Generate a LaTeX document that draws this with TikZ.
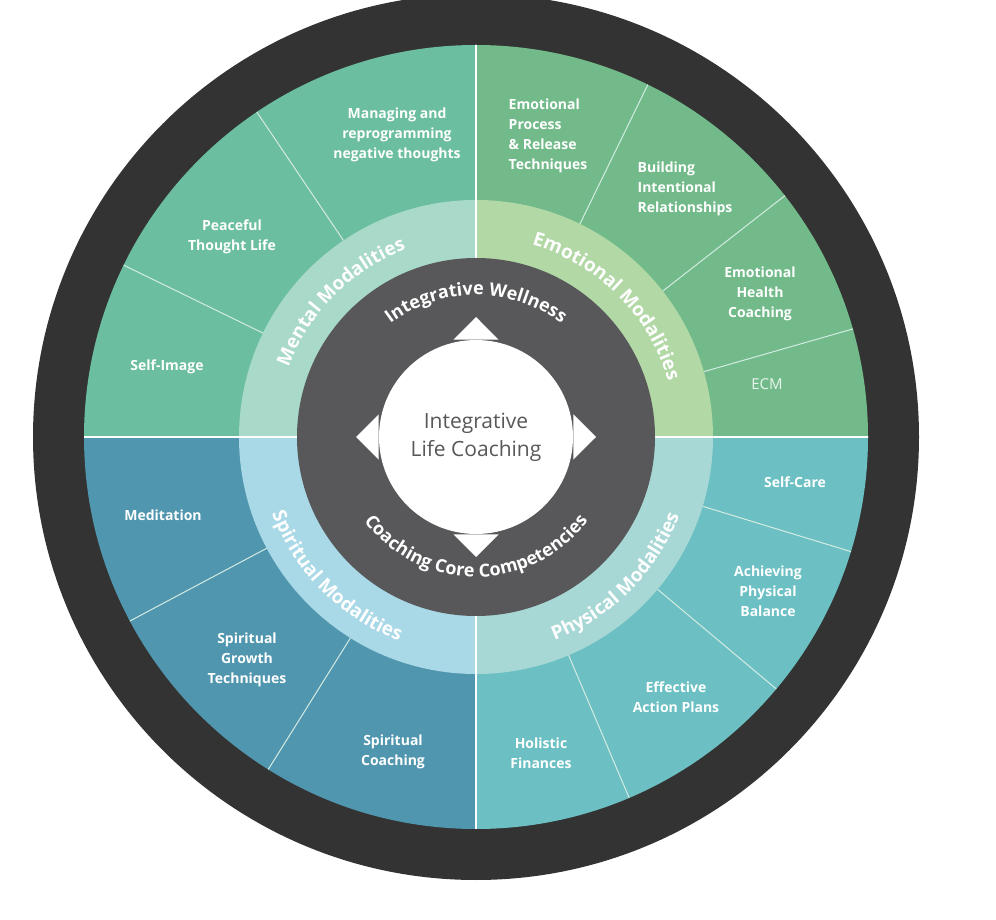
\documentclass[tikz,border=0pt]{standalone}
\usepackage{fontspec}
\setmainfont{Open Sans}
\usetikzlibrary{decorations.text}
\definecolor{ringdark}{HTML}{333333}
\definecolor{discdark}{HTML}{58585A}
\definecolor{mentalq}{HTML}{6BBE9F}
\definecolor{emoq}{HTML}{72BA8A}
\definecolor{spiritq}{HTML}{5096AF}
\definecolor{physq}{HTML}{6CC0C3}
\definecolor{mentalr}{HTML}{A9D9C8}
\definecolor{emor}{HTML}{B2D8A6}
\definecolor{spiritr}{HTML}{A9D8E7}
\definecolor{physr}{HTML}{A8D8D6}
\tikzset{
  lbl/.style={text=white, font=\fontsize{14}{20}\selectfont\bfseries, align=center},
  divider/.style={white!70!mentalq, line width=1pt},
  ringtext/.style={decorate, decoration={text along path, text align=center,
    text color=white}},
}
\begin{document}
\begin{tikzpicture}[x=1pt,y=1pt]
  \useasboundingbox (0,0) rectangle (996,919);
  \coordinate (c) at (476,482);
  % outer ring
  \fill[ringdark] (c) circle (443);
  % quadrants
  \begin{scope}
    \clip (c) circle (392);
    \fill[mentalq] (c) rectangle ++(-400,400);
    \fill[emoq] (c) rectangle ++(400,400);
    \fill[spiritq] (c) rectangle ++(-400,-400);
    \fill[physq] (c) rectangle ++(400,-400);
    % radial dividers
    \foreach \a in {154,124,64,38,16,-17,-40,-67,208,238}
      \draw[divider] (c) ++(\a:237) -- ++(\a:170);
    \draw[white, line width=1.5pt] (c) ++(-400,0) -- ++(800,0);
    \draw[white, line width=1.5pt] (c) ++(0,-400) -- ++(0,800);
  \end{scope}
  % modality ring
  \fill[mentalr] (c) -- ++(180:237) arc[start angle=180, end angle=90, radius=237] -- cycle;
  \fill[emor] (c) -- ++(90:237) arc[start angle=90, end angle=0, radius=237] -- cycle;
  \fill[physr] (c) -- ++(0:237) arc[start angle=360, end angle=270, radius=237] -- cycle;
  \fill[spiritr] (c) -- ++(270:237) arc[start angle=270, end angle=180, radius=237] -- cycle;
  \draw[white, line width=1.5pt] (c) ++(-237,0) -- ++(474,0);
  \draw[white, line width=1.5pt] (c) ++(0,-237) -- ++(0,474);
  % dark disc and centre
  \fill[discdark] (c) circle (179);
  \fill[white] (c) circle (97);
  \foreach \a in {0,90,180,270}
    \fill[white] (c) ++(\a:120) -- ++(\a+135:32) -- ++(\a-90:45.2) -- cycle;
  \node[text=discdark, font=\fontsize{21}{28}\selectfont, align=center] (core) at (c)
    {Integrative\\Life Coaching};
  % curved labels
  \path[ringtext, decoration={text={|\fontsize{19}{22}\selectfont\bfseries|Mental Modalities}}]
    (c) ++(172:200) arc[start angle=172, end angle=98, radius=200];
  \path[ringtext, decoration={text={|\fontsize{19}{22}\selectfont\bfseries|Emotional Modalities}}]
    (c) ++(84:200) arc[start angle=84, end angle=6, radius=200];
  \path[ringtext, decoration={text={|\fontsize{19}{22}\selectfont\bfseries|Spiritual Modalities}}]
    (c) ++(186:218) arc[start angle=186, end angle=264, radius=218];
  \path[ringtext, decoration={text={|\fontsize{19}{22}\selectfont\bfseries|Physical Modalities}}]
    (c) ++(276:218) arc[start angle=276, end angle=354, radius=218];
  \path[ringtext, decoration={text={|\fontsize{18}{22}\selectfont\bfseries|Integrative Wellness}}]
    (c) ++(140:142) arc[start angle=140, end angle=40, radius=142];
  \path[ringtext, decoration={text={|\fontsize{18}{22}\selectfont\bfseries|Coaching Core Competencies}}]
    (c) ++(208:140) arc[start angle=208, end angle=332, radius=140];
  % mental
  \node[lbl] (managing) at (397,784) {Managing and\\reprogramming\\negative thoughts};
  \node[lbl] (peaceful) at (232,682) {Peaceful\\Thought Life};
  \node[lbl] (selfimage) at (167,552) {Self-Image};
  % emotional
  \node[lbl, align=left] (process) at (548,783) {Emotional\\Process\\\& Release\\Techniques};
  \node[lbl, align=left] (building) at (685,730) {Building\\Intentional\\Relationships};
  \node[lbl] (health) at (760,625) {Emotional\\Health\\Coaching};
  \node[text=white!85!emoq, font=\fontsize{15}{18}\selectfont] (ecm) at (767,535) {ECM};
  % physical
  \node[lbl] (selfcare) at (795,437) {Self-Care};
  \node[lbl] (balance) at (768,328) {Achieving\\Physical\\Balance};
  \node[lbl] (plans) at (676,222) {Effective\\Action Plans};
  \node[lbl] (finances) at (541,166) {Holistic\\Finances};
  % spiritual
  \node[lbl] (meditation) at (163,404) {Meditation};
  \node[lbl] (growth) at (247,259) {Spiritual\\Growth\\Techniques};
  \node[lbl] (spcoaching) at (393,167) {Spiritual\\Coaching};
\end{tikzpicture}
\end{document}
